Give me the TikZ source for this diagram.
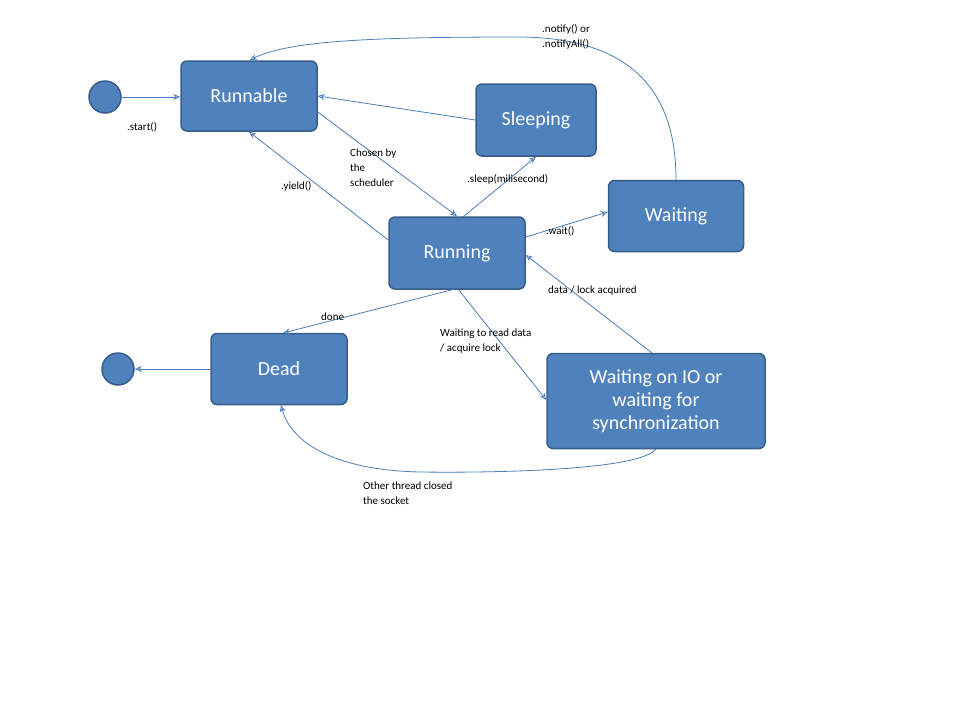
\documentclass[tikz,border=0pt]{standalone}
\usepackage{fontspec}
\setmainfont{Carlito}
\usetikzlibrary{arrows.meta}
\definecolor{fillb}{HTML}{4F81BD}
\definecolor{bord}{HTML}{385D8A}
\definecolor{linec}{HTML}{4A7EBB}
\begin{document}
\begin{tikzpicture}[x=1pt,y=-1pt,
 st/.style={draw=bord,line width=1.5pt,fill=fillb,rounded corners=6pt,text=white,font=\fontsize{20}{23}\selectfont,align=center,inner sep=0pt},
 dot/.style={circle,draw=bord,line width=1.5pt,fill=fillb,minimum size=32pt,inner sep=0pt},
 ar/.style={draw=linec,line width=0.8pt,-{Stealth[length=7pt,width=6pt,open]}},
 lb/.style={font=\fontsize{11}{15}\selectfont,align=left,inner sep=0pt,anchor=west}]
\useasboundingbox (0,0) rectangle (960,720);
\node[dot] (s) at (105,97) {};
\node[dot] (e) at (118,369) {};
\node[st,minimum width=136pt,minimum height=70pt] (rb) at (249,96) {Runnable};
\node[st,minimum width=120pt,minimum height=72pt] (sl) at (536,120) {Sleeping};
\node[st,minimum width=135pt,minimum height=71pt] (wt) at (676,216) {Waiting};
\node[st,minimum width=136pt,minimum height=72pt] (rn) at (457,253) {Running};
\node[st,minimum width=136pt,minimum height=71pt] (dd) at (279,369) {Dead};
\node[st,minimum width=218pt,minimum height=95pt] (io) at (656,401) {Waiting on IO or\\waiting for\\synchronization};
\draw[ar] (s) -- (rb.west |- s);
\node[lb] (l1) at (127,127) {.start()};
\draw[ar] (sl.west) -- (rb.east);
\draw[ar] (rb.east |- 0,112) -- (rn.north);
\node[lb] (l2) at (350,168) {Chosen by\\the\\scheduler};
\draw[ar] (rn.west |- 0,240) -- (rb.south);
\node[lb] (l3) at (281,186) {.yield()};
\draw[ar] (463,217) -- (sl.south);
\node[lb] (l4) at (467,179) {.sleep(milisecond)};
\draw[ar] (rn.east |- 0,237) -- (wt.west |- 0,212);
\node[lb] (l5) at (546,231) {.wait()};
\draw[ar] (wt.north) .. controls (676,100) and (640,38) .. (520,37) .. controls (380,37) and (290,40) .. (250,60);
\node[lb] (l6) at (542,37) {.notify() or\\.notifyAll()};
\draw[ar] (652,353) -- (rn.east |- 0,255);
\node[lb] (l7) at (548,291) {data / lock acquired};
\draw[ar] (458,289) -- (io.west |- 0,400);
\node[lb] (l8) at (440,341) {Waiting to read data\\/ acquire lock};
\draw[ar] (455,289) -- (283,333);
\node[lb] (l9) at (321,317) {done};
\draw[ar] (dd.west) -- (e.east);
\draw[ar] (656,449) .. controls (640,470) and (500,473) .. (420,472) .. controls (330,470) and (290,440) .. (281,405);
\node[lb] (l10) at (363,493) {Other thread closed\\the socket};
\end{tikzpicture}
\end{document}
